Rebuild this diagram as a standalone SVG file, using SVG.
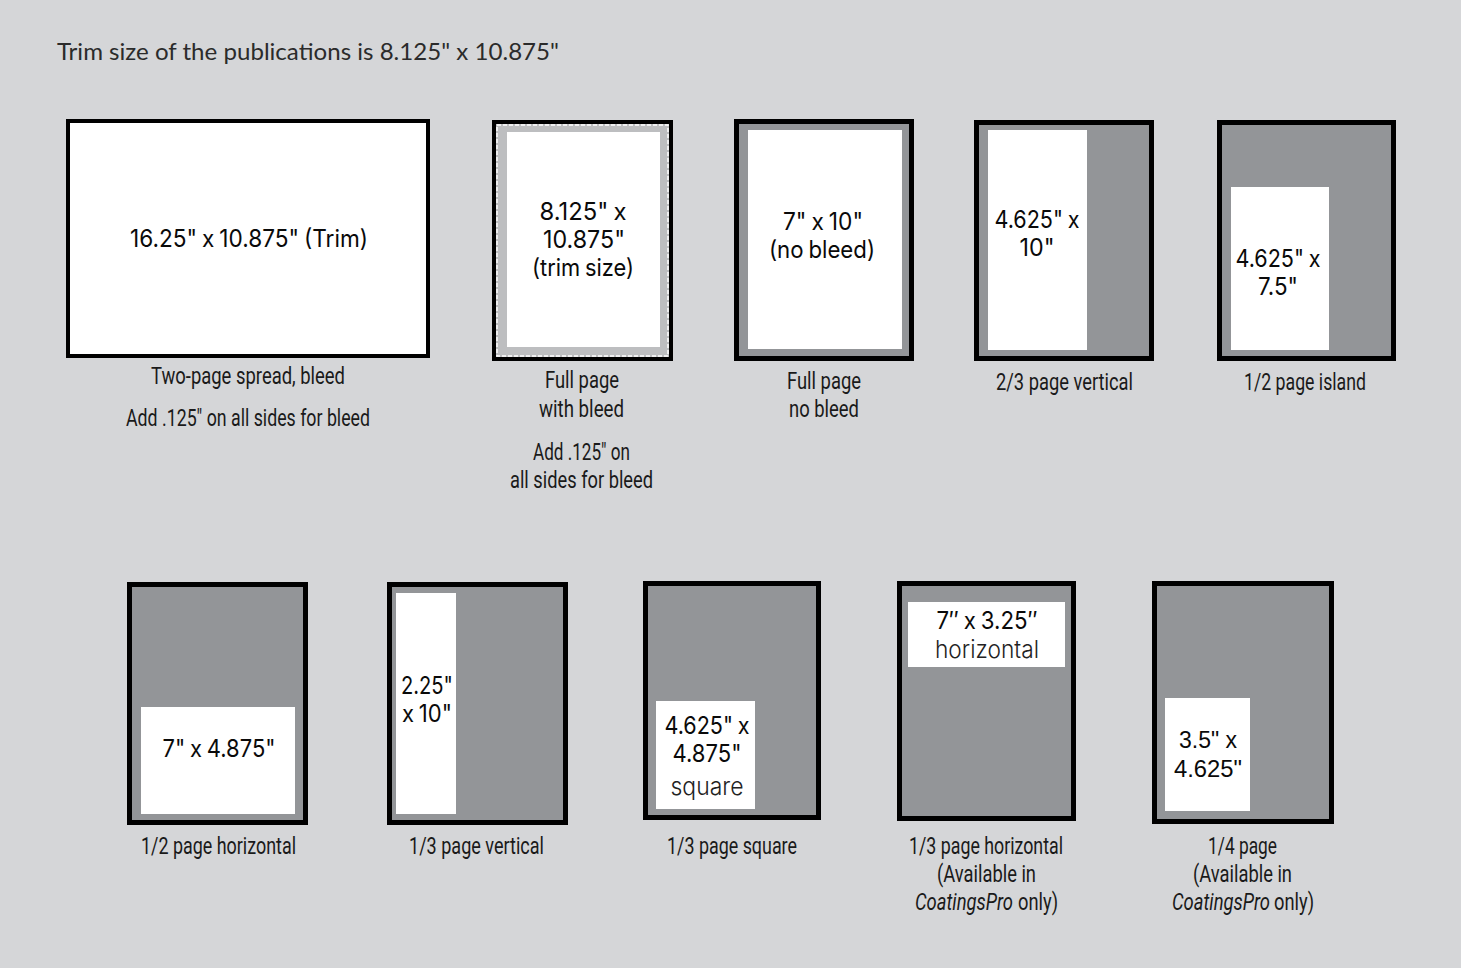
<svg xmlns="http://www.w3.org/2000/svg" width="1461" height="968" viewBox="0 0 1461 968">
<style>
.page{fill:#939598;stroke:#000;stroke-width:5}
.win{fill:#fff}
.t{font-family:Inter,"Liberation Sans",sans-serif;font-size:24px;fill:#0a0a0a;text-anchor:middle;word-spacing:-1.5px}
.l{font-family:Inter,"Liberation Sans",sans-serif;font-size:24px;font-weight:300;fill:#222;text-anchor:middle}
.c{font-family:Roboto,"Liberation Sans",sans-serif;font-size:23px;fill:#1a1a1a}
.i{font-style:italic}
</style>
<rect width="1461" height="968" fill="#d5d6d8"/>
<text x="57" y="60" font-family="Lato,sans-serif" font-size="24" fill="#2b2b2b" textLength="502" lengthAdjust="spacingAndGlyphs">Trim size of the publications is 8.125" x 10.875"</text>
<g id="spread">
<rect x="68" y="121" width="360" height="235" fill="#fff" stroke="#000" stroke-width="4"/>
<text class="t" x="249" y="247" textLength="238" lengthAdjust="spacingAndGlyphs">16.25" x 10.875" (Trim)</text>
<text class="c" x="151" y="384" textLength="194" lengthAdjust="spacingAndGlyphs">Two-page spread, bleed</text>
<text class="c" x="126" y="426" textLength="244" lengthAdjust="spacingAndGlyphs">Add .125″ on all sides for bleed</text>
</g>
<g id="full-bleed">
<rect x="494" y="122" width="177" height="237" fill="#bdbec0" stroke="#000" stroke-width="4"/>
<rect x="497" y="125" width="171" height="231" fill="none" stroke="#fff" stroke-width="1.5" stroke-dasharray="4 2"/>
<rect class="win" x="507" y="132" width="153" height="215"/>
<text class="t" x="583" y="220" textLength="87" lengthAdjust="spacingAndGlyphs">8.125" x</text>
<text class="t" x="584" y="248" textLength="82" lengthAdjust="spacingAndGlyphs">10.875"</text>
<text class="t" x="583" y="276" textLength="102" lengthAdjust="spacingAndGlyphs">(trim size)</text>
<text class="c" x="545" y="388" textLength="74" lengthAdjust="spacingAndGlyphs">Full page</text>
<text class="c" x="539" y="417" textLength="85" lengthAdjust="spacingAndGlyphs">with bleed</text>
<text class="c" x="533" y="460" textLength="97" lengthAdjust="spacingAndGlyphs">Add .125″ on</text>
<text class="c" x="510" y="488" textLength="143" lengthAdjust="spacingAndGlyphs">all sides for bleed</text>
</g>
<g id="full-no-bleed">
<rect class="page" x="736.500" y="121.500" width="175" height="237"/>
<rect class="win" x="748" y="130" width="154" height="219"/>
<text class="t" x="823" y="230" textLength="80" lengthAdjust="spacingAndGlyphs">7" x 10"</text>
<text class="t" x="822" y="258" textLength="106" lengthAdjust="spacingAndGlyphs">(no bleed)</text>
<text class="c" x="787" y="389" textLength="74" lengthAdjust="spacingAndGlyphs">Full page</text>
<text class="c" x="789" y="417" textLength="70" lengthAdjust="spacingAndGlyphs">no bleed</text>
</g>
<g id="two-thirds-vertical">
<rect class="page" x="976.500" y="122.500" width="175" height="236"/>
<rect class="win" x="988" y="130" width="99" height="220"/>
<text class="t" x="1037" y="228" textLength="85" lengthAdjust="spacingAndGlyphs">4.625" x</text>
<text class="t" x="1037" y="256" textLength="35" lengthAdjust="spacingAndGlyphs">10"</text>
<text class="c" x="996" y="390" textLength="137" lengthAdjust="spacingAndGlyphs">2/3 page vertical</text>
</g>
<g id="half-island">
<rect class="page" x="1219.500" y="122.500" width="174" height="236"/>
<rect class="win" x="1231" y="187" width="98" height="163"/>
<text class="t" x="1278" y="267" textLength="85" lengthAdjust="spacingAndGlyphs">4.625" x</text>
<text class="t" x="1278" y="295" textLength="40" lengthAdjust="spacingAndGlyphs">7.5"</text>
<text class="c" x="1244" y="390" textLength="122" lengthAdjust="spacingAndGlyphs">1/2 page island</text>
</g>
<g id="half-horizontal">
<rect class="page" x="129.500" y="584.500" width="176" height="238"/>
<rect class="win" x="141" y="707" width="154" height="107"/>
<text class="t" x="219" y="757" textLength="113" lengthAdjust="spacingAndGlyphs">7" x 4.875"</text>
<text class="c" x="141" y="854" textLength="155" lengthAdjust="spacingAndGlyphs">1/2 page horizontal</text>
</g>
<g id="third-vertical">
<rect class="page" x="389.500" y="584.500" width="176" height="238"/>
<rect class="win" x="396" y="593" width="60" height="221"/>
<text class="t" x="427" y="694" textLength="52" lengthAdjust="spacingAndGlyphs">2.25"</text>
<text class="t" x="427" y="722" textLength="50" lengthAdjust="spacingAndGlyphs">x 10"</text>
<text class="c" x="409" y="854" textLength="135" lengthAdjust="spacingAndGlyphs">1/3 page vertical</text>
</g>
<g id="third-square">
<rect class="page" x="645.500" y="583.500" width="173" height="234"/>
<rect class="win" x="656" y="701" width="99" height="108"/>
<text class="t" x="707" y="734" textLength="85" lengthAdjust="spacingAndGlyphs">4.625" x</text>
<text class="t" x="707" y="762" textLength="69" lengthAdjust="spacingAndGlyphs">4.875"</text>
<text class="l" x="707" y="795" textLength="73" lengthAdjust="spacingAndGlyphs">square</text>
<text class="c" x="667" y="854" textLength="130" lengthAdjust="spacingAndGlyphs">1/3 page square</text>
</g>
<g id="third-horizontal">
<rect class="page" x="899.500" y="583.500" width="174" height="235"/>
<rect class="win" x="908" y="602" width="157" height="65"/>
<text class="t" x="987" y="629" textLength="101" lengthAdjust="spacingAndGlyphs">7″ x 3.25″</text>
<text class="l" x="987" y="658" textLength="104" lengthAdjust="spacingAndGlyphs">horizontal</text>
<text class="c" x="909" y="854" textLength="154" lengthAdjust="spacingAndGlyphs">1/3 page horizontal</text>
<text class="c" x="937" y="882" textLength="99" lengthAdjust="spacingAndGlyphs">(Available in</text>
<text class="c i" transform="translate(915 910) scale(.8 1)">CoatingsPro</text>
<text class="c" x="1018" y="910" textLength="40" lengthAdjust="spacingAndGlyphs">only)</text>
</g>
<g id="quarter">
<rect class="page" x="1154.500" y="583.500" width="177" height="238"/>
<rect class="win" x="1165" y="698" width="85" height="113"/>
<text font-family="Liberation Sans,sans-serif" font-size="24" fill="#0a0a0a" text-anchor="middle" x="1208" y="748" textLength="58" lengthAdjust="spacingAndGlyphs">3.5" x</text>
<text font-family="Liberation Sans,sans-serif" font-size="24" fill="#0a0a0a" text-anchor="middle" x="1208" y="777" textLength="68" lengthAdjust="spacingAndGlyphs">4.625"</text>
<text class="c" x="1208" y="854" textLength="69" lengthAdjust="spacingAndGlyphs">1/4 page</text>
<text class="c" x="1193" y="882" textLength="99" lengthAdjust="spacingAndGlyphs">(Available in</text>
<text class="c i" transform="translate(1172 910) scale(.8 1)">CoatingsPro</text>
<text class="c" x="1274" y="910" textLength="40" lengthAdjust="spacingAndGlyphs">only)</text>
</g>
</svg>
